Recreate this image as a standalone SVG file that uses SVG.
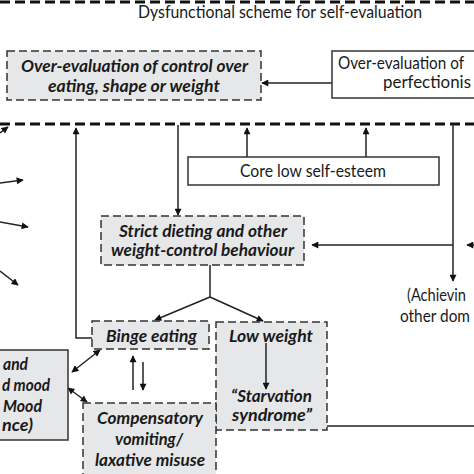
<svg xmlns="http://www.w3.org/2000/svg" width="474" height="474" viewBox="0 0 474 474">
<style>
.t{font-family:Lato,"Open Sans","Liberation Sans",sans-serif;font-size:16.5px;fill:#1a1a1a}
.b{font-weight:bold;font-style:italic;font-size:17px}
.dbox{fill:#e6e7e8;stroke:#333;stroke-width:1.5;stroke-dasharray:8 4}
.sbox{fill:#fff;stroke:#333;stroke-width:1.5}
.gbox{fill:#e6e7e8;stroke:#333;stroke-width:1.5}
.div{stroke:#111;stroke-width:3;stroke-dasharray:10 5;fill:none}
.c{stroke:#222;stroke-width:1.5;fill:none}
</style>
<defs>
<marker id="ah" viewBox="0 0 10 10" refX="9" refY="5" markerWidth="8" markerHeight="7" markerUnits="userSpaceOnUse" orient="auto-start-reverse">
<path d="M0,0 L10,5 L0,10 z" fill="#111"/>
</marker>
</defs>
<rect width="474" height="474" fill="#fff"/>

<g id="dividers">
<line class="div" x1="0" y1="2" x2="474" y2="2"/>
<line class="div" x1="0" y1="124" x2="474" y2="124"/>
</g>

<g id="title">
<text class="t" x="138" y="18" textLength="284" lengthAdjust="spacingAndGlyphs">Dysfunctional scheme for self-evaluation</text>
</g>

<g id="connectors">
<line class="c" x1="332" y1="83" x2="262" y2="83" marker-end="url(#ah)"/>
<polyline class="c" points="92,338 76,338 76,128" marker-end="url(#ah)"/>
<line class="c" x1="178" y1="125" x2="178" y2="215" marker-end="url(#ah)"/>
<line class="c" x1="247" y1="157" x2="247" y2="128" marker-end="url(#ah)"/>
<line class="c" x1="366" y1="157" x2="366" y2="128" marker-end="url(#ah)"/>
<line class="c" x1="453" y1="124" x2="453" y2="281" marker-end="url(#ah)"/>
<line class="c" x1="453" y1="245" x2="312" y2="245" marker-end="url(#ah)"/>
<line class="c" x1="474" y1="245" x2="467" y2="245" marker-end="url(#ah)"/>
<polyline class="c" points="210,265 210,297"/>
<line class="c" x1="210" y1="297" x2="155" y2="320" marker-end="url(#ah)"/>
<line class="c" x1="210" y1="297" x2="263" y2="321" marker-end="url(#ah)"/>
<line class="c" x1="133" y1="390" x2="133" y2="356" marker-end="url(#ah)"/>
<line class="c" x1="143" y1="362" x2="143" y2="390" marker-end="url(#ah)"/>
<line class="c" x1="72" y1="372" x2="100" y2="350" marker-start="url(#ah)" marker-end="url(#ah)"/>
<line class="c" x1="68" y1="388" x2="87" y2="402" marker-start="url(#ah)" marker-end="url(#ah)"/>
<line class="c" x1="327" y1="426" x2="474" y2="426"/>
<line class="c" x1="0" y1="133" x2="8" y2="127" marker-end="url(#ah)"/>
<line class="c" x1="0" y1="183" x2="23" y2="180" marker-end="url(#ah)"/>
<line class="c" x1="0" y1="222" x2="28" y2="227" marker-end="url(#ah)"/>
<line class="c" x1="0" y1="271" x2="18" y2="285" marker-end="url(#ah)"/>
</g>

<g id="node-control">
<rect class="dbox" x="7" y="51" width="254" height="49"/>
<text class="t b" x="21" y="72" textLength="227" lengthAdjust="spacingAndGlyphs">Over-evaluation of control over</text>
<text class="t b" x="48" y="92" textLength="172" lengthAdjust="spacingAndGlyphs">eating, shape or weight</text>
</g>

<g id="node-perfectionism">
<rect class="sbox" x="332" y="51" width="150" height="47"/>
<text class="t" x="338" y="69" textLength="126" lengthAdjust="spacingAndGlyphs">Over-evaluation of</text>
<text class="t" x="383" y="88" textLength="88" lengthAdjust="spacingAndGlyphs">perfectionis</text>
</g>

<g id="node-selfesteem">
<rect class="sbox" x="188" y="157" width="251" height="28"/>
<text class="t" x="240" y="177" textLength="146" lengthAdjust="spacingAndGlyphs">Core low self-esteem</text>
</g>

<g id="node-dieting">
<rect class="dbox" x="101" y="216" width="203" height="49"/>
<text class="t b" x="119" y="237" textLength="168" lengthAdjust="spacingAndGlyphs">Strict dieting and other</text>
<text class="t b" x="111" y="256" textLength="183" lengthAdjust="spacingAndGlyphs">weight-control behaviour</text>
</g>

<g id="node-achieving">
<text class="t" x="407" y="301" textLength="59" lengthAdjust="spacingAndGlyphs">(Achievin</text>
<text class="t" x="400" y="322" textLength="70" lengthAdjust="spacingAndGlyphs">other dom</text>
</g>

<g id="node-binge">
<rect class="dbox" x="92" y="321" width="117" height="28"/>
<text class="t b" x="106" y="342" textLength="91" lengthAdjust="spacingAndGlyphs">Binge eating</text>
</g>

<g id="node-lowweight">
<rect class="dbox" x="216" y="322" width="111" height="108"/>
<text class="t b" x="229" y="342" textLength="84" lengthAdjust="spacingAndGlyphs">Low weight</text>
<line class="c" x1="266" y1="343" x2="266" y2="389" marker-end="url(#ah)"/>
<text class="t b" x="231" y="402" textLength="81" lengthAdjust="spacingAndGlyphs">“Starvation</text>
<text class="t b" x="232" y="421" textLength="80" lengthAdjust="spacingAndGlyphs">syndrome”</text>
</g>

<g id="node-compensatory">
<rect class="dbox" x="83" y="403" width="133" height="80"/>
<text class="t b" x="97" y="424" textLength="106" lengthAdjust="spacingAndGlyphs">Compensatory</text>
<text class="t b" x="115" y="445" textLength="68" lengthAdjust="spacingAndGlyphs">vomiting/</text>
<text class="t b" x="95" y="466" textLength="110" lengthAdjust="spacingAndGlyphs">laxative misuse</text>
</g>

<g id="node-mood">
<rect class="gbox" x="-10" y="350" width="78" height="90"/>
<text class="t b" x="3" y="370" textLength="25" lengthAdjust="spacingAndGlyphs">and</text>
<text class="t b" x="2" y="391" textLength="48" lengthAdjust="spacingAndGlyphs">d mood</text>
<text class="t b" x="3" y="412" textLength="39" lengthAdjust="spacingAndGlyphs">Mood</text>
<text class="t b" x="2" y="431" textLength="31" lengthAdjust="spacingAndGlyphs">nce)</text>
</g>
</svg>
